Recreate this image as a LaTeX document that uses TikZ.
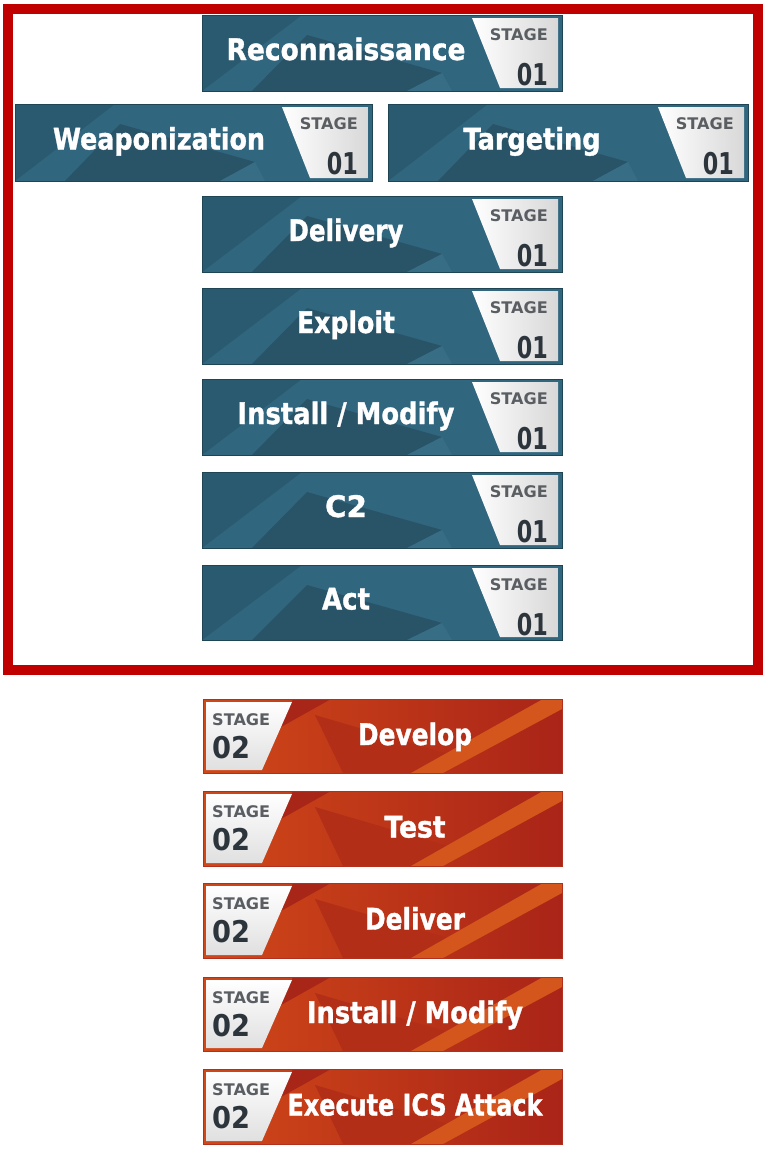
\documentclass[tikz,border=0pt]{standalone}
\usepackage{fontspec}
\setmainfont{DejaVu Sans}
\newfontfamily\heavyfont{DejaVu Sans}[FakeBold=1.2]
\definecolor{framered}{HTML}{C00000}
\definecolor{bluebase}{HTML}{31667F}
\definecolor{bluedark}{HTML}{2A5A70}
\definecolor{bluearrow}{HTML}{295468}
\definecolor{bluelight}{HTML}{386D86}
\definecolor{blueborder}{HTML}{1F4454}
\definecolor{redleft}{HTML}{D04818}
\definecolor{redright}{HTML}{AA2418}
\definecolor{reddark}{HTML}{A82617}
\definecolor{redband}{HTML}{D4561C}
\definecolor{redborder}{HTML}{B3301F}
\definecolor{tabgray}{HTML}{D8D8D8}
\definecolor{stagegray}{HTML}{5A5E62}
\definecolor{numdark}{HTML}{2C343C}
\tikzset{
  maintext/.style={font=\fontsize{27}{27}\selectfont\heavyfont\bfseries, text=white, inner sep=0pt, anchor=base},
  stagetext/.style={font=\fontsize{16}{16}\selectfont\bfseries, text=stagegray, inner sep=0pt},
  numtext/.style={font=\fontsize{30}{30}\selectfont\bfseries, text=numdark, inner sep=0pt},
}
% #1 name, #2 x0, #3 y0, #4 x1, #5 y1, #6 text, #7 text width
\newcommand\bluebanner[7]{%
  \begin{scope}[shift={(#2,#3)}]
    \pgfmathsetmacro\bw{#4-#2}
    \pgfmathsetmacro\bh{#5-#3}
    \fill[bluebase] (0,0) rectangle (\bw,\bh);
    \fill[bluedark] (0,0) -- (100,0) -- (0,\bh) -- cycle;
    \fill[bluearrow] (105,20) -- (240,58) -- (205,\bh) -- (50,\bh) -- cycle;
    \fill[bluelight] (205,\bh) -- (240,58) -- (250,\bh) -- cycle;
    \shade[left color=white, right color=tabgray] (\bw-90,3) -- (\bw-4,3) -- (\bw-4,\bh-3) -- (\bw-62,\bh-3) -- cycle;
    \draw[blueborder, line width=1pt] (0,0) rectangle (\bw,\bh);
    \node[maintext] (#1) at (144,\bh/2+7) {\resizebox{#7pt}{1.1\height}{#6}};
    \node[stagetext, anchor=base east] (#1-stage) at (\bw-14,25) {\resizebox{58pt}{\height}{STAGE}};
    \node[numtext, anchor=base east] (#1-num) at (\bw-14,70) {\resizebox{31pt}{\height}{01}};
  \end{scope}}
\newcommand\redbanner[7]{%
  \begin{scope}[shift={(#2,#3)}]
    \pgfmathsetmacro\bw{#4-#2}
    \pgfmathsetmacro\bh{#5-#3}
    \shade[left color=redleft, right color=redright] (0,0) rectangle (\bw,\bh);
    \fill[reddark] (90,0) -- (128,0) -- (78,28) -- cycle;
    \fill[reddark!75!redleft] (112,16) -- (245,55) -- (210,\bh) -- (140,\bh) -- cycle;
    \fill[redband] (208,\bh) -- (340,0) -- (\bw,0) -- (\bw,10) -- (240,\bh) -- cycle;
    \shade[top color=white, bottom color=tabgray!80] (3,3) -- (89,3) -- (59,\bh-3) -- (3,\bh-3) -- cycle;
    \draw[redborder, line width=1pt] (0,0) rectangle (\bw,\bh);
    \node[maintext] (#1) at (212,\bh/2+9) {\resizebox{#7pt}{1.1\height}{#6}};
    \node[stagetext, anchor=base west] (#1-stage) at (9,26) {\resizebox{58pt}{\height}{STAGE}};
    \node[numtext, anchor=base west] (#1-num) at (9,59) {\resizebox{38pt}{\height}{02}};
  \end{scope}}
\begin{document}
\begin{tikzpicture}[x=1pt, y=-1pt]
  \fill[white] (0,0) rectangle (768,1154);
  \useasboundingbox (0,0) rectangle (768,1154);
  \draw[framered, line width=10pt] (8,9) rectangle (758,670);
  \bluebanner{recon}{202}{15}{562}{91}{Reconnaissance}{239}
  \bluebanner{weapon}{15}{104}{372}{181}{Weaponization}{212}
  \bluebanner{target}{388}{104}{748}{181}{Targeting}{137}
  \bluebanner{delivery}{202}{196}{562}{272}{Delivery}{115}
  \bluebanner{exploit}{202}{288}{562}{364}{Exploit}{98}
  \bluebanner{installa}{202}{379}{562}{455}{Install / Modify}{217}
  \bluebanner{ctwo}{202}{472}{562}{548}{C2}{42}
  \bluebanner{act}{202}{565}{562}{640}{Act}{48}
  \redbanner{develop}{203}{699}{562}{773}{Develop}{114}
  \redbanner{test}{203}{791}{562}{866}{Test}{61}
  \redbanner{deliver}{203}{883}{562}{958}{Deliver}{100}
  \redbanner{installb}{203}{977}{562}{1051}{Install / Modify}{216}
  \redbanner{execute}{203}{1069}{562}{1144}{Execute ICS Attack}{255}
\end{tikzpicture}
\end{document}
